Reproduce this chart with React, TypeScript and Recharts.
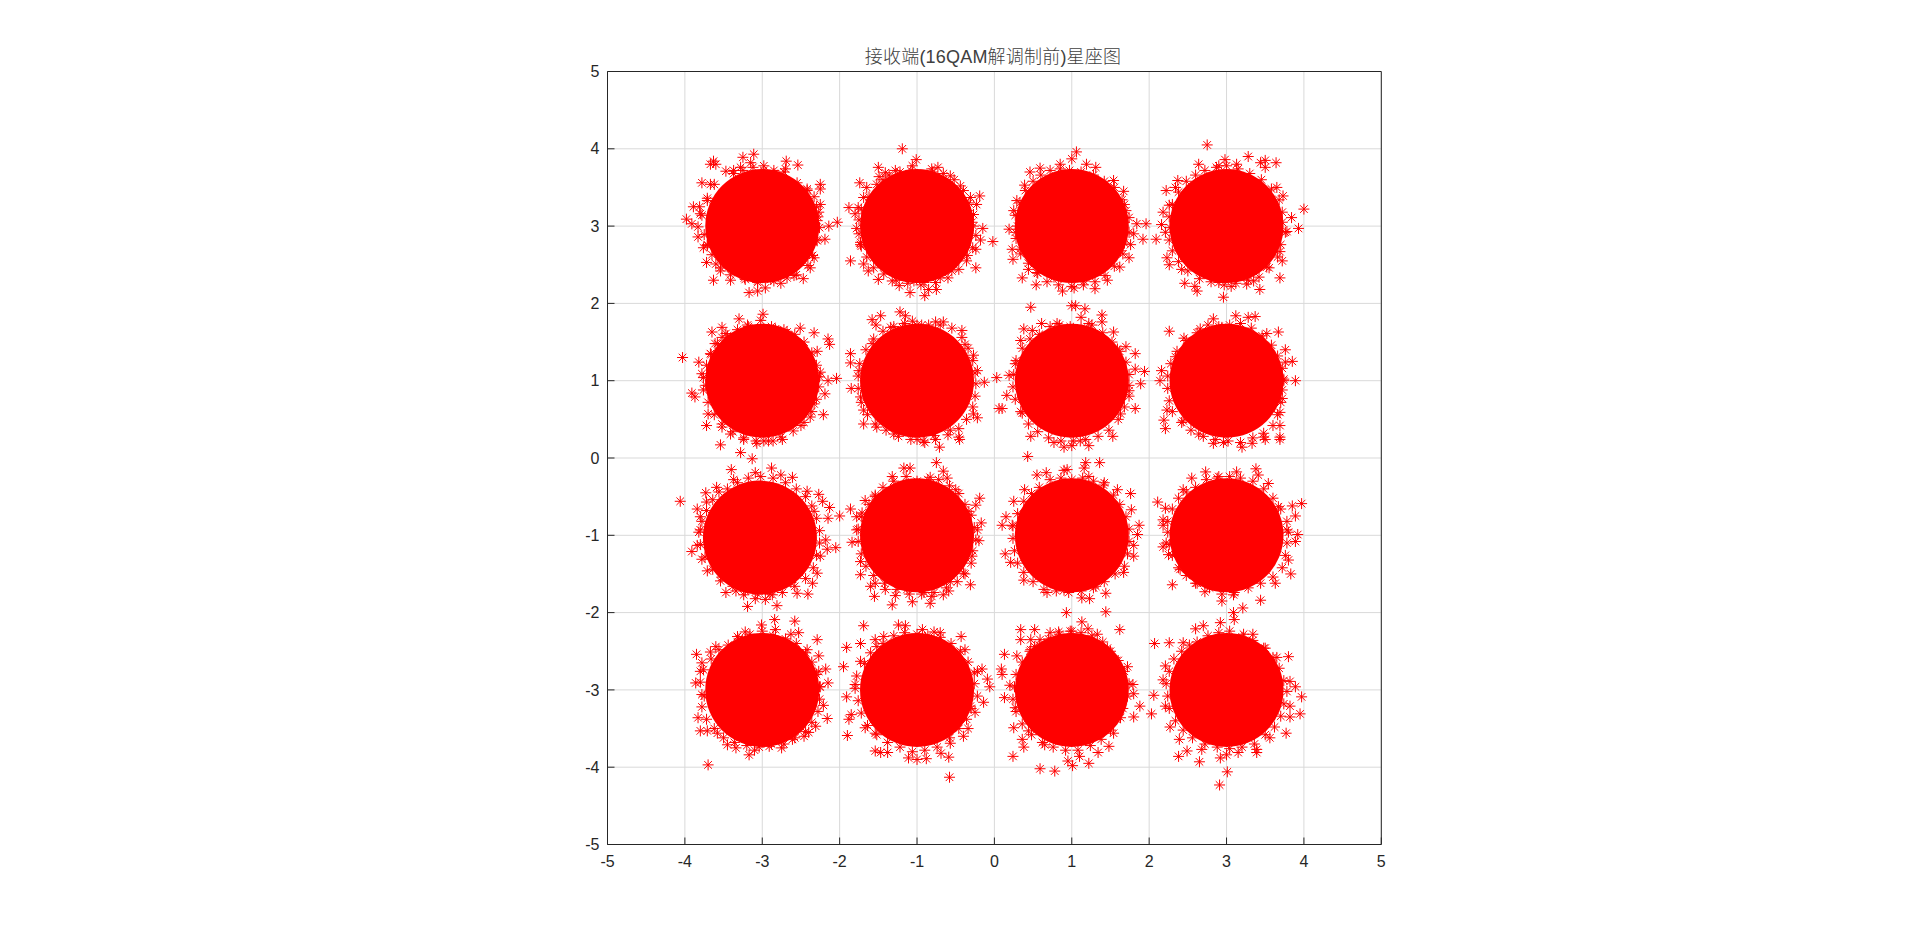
import React from "react";
import {
  ScatterChart,
  Scatter,
  XAxis,
  YAxis,
  CartesianGrid,
} from "recharts";

const TITLE = "接收端(16QAM解调制前)星座图";
const TICKS = [-5, -4, -3, -2, -1, 0, 1, 2, 3, 4, 5];

// centre of the solid part of each constellation blob
const coreX = [-3, -1, 1, 3, -3, -1, 1, 3, -3.03, -1, 1, 3, -3, -1, 1, 3];
const coreY = [3, 3, 3, 3, 1, 1, 1, 1, -1.03, -1, -1, -1, -3, -3, -3, -3];

// samples
const blobA1: number[][] = [[-3.63,3.84],[-3.60,3.80],[-3.67,3.80],[-3.25,3.89],[-3.11,3.93],[-2.69,3.84],[-2.54,3.79],[-3.47,3.71],[-3.78,3.56],[-3.67,3.54],[-2.25,3.54],[-2.25,3.48],[-3.89,3.25],[-3.81,3.25],[-3.98,3.09],[-3.91,3.03],[-3.83,2.99],[-3.83,2.86],[-3.76,2.72],[-3.71,2.75],[-3.72,2.53],[-3.60,2.51],[-3.63,2.30],[-3.41,2.30],[-3.22,2.31],[-3.17,2.14],[-3.06,2.16],[-2.96,2.20],[-2.76,2.26],[-2.59,2.36],[-2.47,2.32],[-2.38,2.46],[-2.19,2.83],[-2.14,3.00],[-2.03,3.05],[-2.25,3.28],[-2.27,3.18],[-2.29,2.81],[-3.71,3.33],[-3.80,3.16],[-2.42,3.48],[-2.55,3.56],[-2.98,3.78],[-3.37,3.72],[-2.85,3.72],[-2.70,3.74],[-3.28,3.76],[-3.15,3.82],[-3.54,2.42],[-3.06,2.29],[-2.89,2.31],[-2.33,2.59],[-2.29,3.07]];
const blobA2: number[][] = [[-1.19,4.00],[-1.01,3.86],[-1.50,3.76],[-1.28,3.72],[-1.06,3.78],[-0.73,3.76],[-0.81,3.74],[-1.74,3.56],[-1.49,3.64],[-0.57,3.65],[-0.44,3.52],[-0.19,3.39],[-0.23,3.28],[-0.31,3.37],[-1.88,3.24],[-1.76,3.24],[-1.80,3.16],[-1.65,3.50],[-1.69,3.37],[-1.78,2.97],[-1.73,2.79],[-1.73,2.76],[-1.86,2.55],[-1.69,2.51],[-1.63,2.42],[-1.50,2.31],[-1.32,2.29],[-1.23,2.23],[-1.09,2.14],[-0.90,2.10],[-0.85,2.18],[-0.75,2.18],[-0.70,2.33],[-0.55,2.42],[-0.35,2.62],[-0.24,2.46],[-0.24,2.70],[-0.18,2.82],[-0.02,2.80],[-0.15,2.97],[-0.29,3.05],[-0.35,3.20],[-1.04,2.29],[-0.91,2.27],[-1.56,2.59],[-1.41,3.69]];
const blobA3: number[][] = [[1.06,3.96],[1.00,3.87],[1.19,3.80],[1.31,3.76],[0.85,3.80],[0.59,3.75],[0.46,3.70],[1.54,3.59],[0.39,3.53],[1.67,3.45],[0.29,3.33],[0.25,3.20],[1.68,3.28],[1.74,3.11],[1.84,3.03],[1.96,3.03],[1.80,2.90],[1.92,2.83],[0.19,2.96],[0.27,2.92],[1.76,2.76],[0.23,2.70],[0.24,2.57],[1.74,2.59],[1.62,2.47],[0.44,2.44],[0.56,2.39],[0.36,2.33],[0.54,2.24],[1.46,2.30],[1.30,2.19],[1.03,2.20],[0.88,2.16],[1.16,2.29],[0.77,2.34],[0.34,2.64],[1.63,2.68]];
const blobA4: number[][] = [[2.75,4.05],[2.98,3.86],[3.28,3.90],[3.44,3.82],[3.50,3.85],[3.50,3.76],[3.64,3.82],[2.64,3.80],[2.90,3.78],[3.13,3.80],[2.37,3.59],[2.22,3.46],[2.34,3.50],[3.65,3.50],[3.73,3.39],[2.26,3.27],[2.18,3.18],[3.84,3.11],[4.00,3.22],[3.93,2.97],[3.78,2.93],[2.16,3.02],[2.21,2.92],[2.09,2.83],[2.23,2.59],[2.26,2.50],[3.72,2.55],[3.69,2.67],[3.69,2.33],[3.52,2.47],[2.42,2.44],[2.46,2.26],[2.59,2.22],[2.62,2.16],[2.90,2.27],[3.06,2.22],[2.96,2.08],[3.26,2.25],[3.43,2.18],[3.35,2.29]];
const blobB1: number[][] = [[-2.99,1.86],[-3.30,1.80],[-3.52,1.69],[-3.65,1.63],[-2.51,1.68],[-2.33,1.62],[-2.15,1.54],[-2.13,1.47],[-2.29,1.38],[-4.03,1.30],[-3.82,1.24],[-3.67,1.35],[-3.78,1.09],[-3.73,0.94],[-3.91,0.84],[-3.87,0.79],[-3.70,0.57],[-3.72,0.42],[-3.52,0.40],[-3.41,0.31],[-2.50,0.42],[-2.38,0.53],[-2.21,0.56],[-2.19,0.83],[-2.15,1.00],[-2.25,1.11],[-2.04,1.03],[-2.29,1.05],[-2.38,1.26],[-2.68,1.63],[-2.83,1.67],[-3.19,1.72],[-3.47,1.61],[-3.61,1.48],[-2.33,0.70],[-3.54,0.17],[-3.28,0.07],[-3.13,-0.01],[-3.07,0.19],[-2.98,0.22],[-2.86,0.22],[-2.74,0.24],[-3.24,0.24]];
const blobB2: number[][] = [[-1.22,1.89],[-1.15,1.84],[-1.47,1.84],[-1.58,1.79],[-1.53,1.72],[-1.06,1.77],[-0.76,1.76],[-0.66,1.76],[-0.42,1.65],[-1.34,1.69],[-1.19,1.69],[-0.94,1.72],[-0.38,1.47],[-1.58,1.48],[-1.86,1.35],[-1.86,1.23],[-0.27,1.33],[-1.75,1.13],[-0.22,1.13],[-1.85,0.90],[-0.13,0.98],[0.03,1.04],[-1.73,0.79],[-1.69,0.62],[0.06,0.64],[-0.22,0.52],[-1.69,0.44],[-1.52,0.40],[-1.30,0.31],[-0.46,0.27],[-0.27,0.57],[-0.57,0.36],[-0.78,0.29],[-0.90,0.20],[-0.71,0.14],[-0.75,-0.06],[-0.45,0.24],[-1.00,0.24]];
const blobB3: number[][] = [[0.47,1.95],[1.05,1.97],[1.17,1.93],[1.00,1.97],[1.39,1.85],[1.39,1.76],[1.12,1.82],[1.22,1.74],[0.61,1.74],[0.38,1.67],[0.49,1.65],[0.81,1.74],[1.54,1.63],[1.70,1.44],[1.82,1.35],[1.59,1.41],[1.82,1.15],[1.94,1.12],[1.89,0.96],[1.74,0.87],[0.16,0.81],[0.10,0.64],[1.82,0.64],[1.63,0.57],[0.19,1.07],[0.27,1.22],[0.36,0.58],[0.47,0.28],[1.53,0.28],[0.34,1.52],[0.77,0.20],[0.90,0.14],[1.00,0.16],[1.22,0.16],[0.43,0.02],[1.18,-0.06],[1.36,-0.06],[1.11,0.22]];
const blobB4: number[][] = [[2.26,1.64],[2.45,1.55],[2.83,1.80],[3.12,1.84],[3.28,1.82],[3.37,1.83],[3.67,1.63],[3.76,1.40],[3.85,1.25],[3.76,1.24],[2.66,1.67],[2.94,1.69],[3.52,1.61],[2.34,1.31],[2.16,1.13],[2.14,1.00],[3.89,1.00],[3.74,1.00],[2.23,0.62],[3.72,0.77],[3.69,0.59],[3.69,0.42],[2.19,0.49],[2.21,0.38],[3.69,0.27],[3.48,0.27],[2.64,0.31],[2.44,0.48],[2.83,0.19],[2.96,0.20],[3.20,0.14],[3.33,0.19],[3.50,0.24],[3.69,0.24]];
const blobC1: number[][] = [[-4.06,-0.56],[-3.40,-0.15],[-3.09,-0.19],[-2.88,-0.13],[-2.76,-0.22],[-2.61,-0.25],[-3.59,-0.38],[-3.73,-0.45],[-3.72,-0.57],[-3.84,-0.66],[-2.42,-0.43],[-2.27,-0.47],[-2.22,-0.56],[-2.13,-0.64],[-2.15,-0.78],[-2.00,-0.75],[-2.33,-0.69],[-2.18,-1.06],[-2.05,-1.16],[-2.16,-1.18],[-2.25,-1.27],[-2.29,-1.49],[-2.35,-1.62],[-2.41,-1.76],[-2.55,-1.75],[-2.81,-1.91],[-2.87,-1.77],[-2.96,-1.83],[-3.09,-1.82],[-3.19,-1.92],[-3.24,-1.77],[-3.34,-1.72],[-3.47,-1.74],[-3.54,-1.59],[-3.71,-1.46],[-3.78,-1.31],[-3.91,-1.21],[-3.84,-1.13],[-3.80,-0.93],[-3.80,-0.76],[-3.37,-0.28],[-2.63,-1.61]];
const blobC2: number[][] = [[-1.17,-0.13],[-1.09,-0.13],[-1.32,-0.24],[-0.83,-0.25],[-0.61,-0.26],[-0.50,-0.41],[-0.19,-0.52],[-0.24,-0.61],[-0.66,-0.17],[-1.86,-0.66],[-1.71,-0.71],[-1.78,-0.76],[-1.67,-0.55],[-1.54,-0.50],[-0.33,-0.69],[-0.17,-0.84],[-0.22,-0.93],[-0.20,-1.07],[-1.84,-1.09],[-1.78,-0.93],[-1.73,-1.34],[-1.73,-1.51],[-1.60,-1.66],[-1.54,-1.62],[-1.55,-1.79],[-1.41,-1.70],[-1.32,-1.90],[-1.28,-1.78],[-1.06,-1.86],[-0.83,-1.88],[-0.81,-1.79],[-0.66,-1.77],[-0.59,-1.72],[-0.57,-1.60],[-0.31,-1.64],[-0.40,-1.49],[-0.29,-1.27],[-1.13,-1.70],[-0.91,-1.74]];
const blobC3: number[][] = [[0.55,-0.22],[0.67,-0.19],[0.90,-0.16],[0.94,-0.15],[1.16,-0.13],[1.22,-0.24],[1.41,-0.35],[1.59,-0.41],[1.76,-0.46],[0.39,-0.41],[0.25,-0.56],[1.77,-0.67],[0.15,-0.76],[0.10,-0.87],[0.23,-0.87],[1.87,-0.87],[1.85,-0.99],[1.80,-1.13],[1.80,-1.27],[0.14,-1.24],[0.21,-1.35],[1.67,-1.48],[0.38,-1.58],[0.68,-1.74],[0.90,-1.71],[1.13,-1.81],[1.23,-1.82],[1.44,-1.75],[1.31,-1.66],[1.44,-1.99],[0.93,-2.00]];
const blobC4: number[][] = [[2.73,-0.18],[3.13,-0.18],[3.38,-0.14],[3.41,-0.22],[2.55,-0.26],[2.90,-0.24],[3.54,-0.33],[2.44,-0.41],[2.11,-0.57],[2.21,-0.65],[3.97,-0.59],[3.85,-0.62],[3.89,-0.75],[3.67,-0.63],[2.18,-0.80],[2.18,-0.87],[3.78,-0.93],[3.92,-0.99],[3.89,-1.08],[2.22,-1.10],[2.18,-1.15],[2.25,-1.25],[3.80,-1.32],[3.83,-1.50],[3.63,-1.62],[2.30,-1.64],[2.60,-1.62],[2.72,-1.73],[2.94,-1.85],[3.09,-1.77],[3.44,-1.84],[2.40,-1.44]];
const blobD1: number[][] = [[-2.84,-2.09],[-2.58,-2.11],[-3.01,-2.16],[-2.83,-2.22],[-2.53,-2.26],[-2.29,-2.35],[-2.63,-2.28],[-3.22,-2.25],[-3.32,-2.31],[-3.60,-2.44],[-3.67,-2.51],[-3.85,-2.54],[-3.78,-2.65],[-3.80,-2.76],[-3.86,-2.91],[-2.27,-2.56],[-2.42,-2.48],[-2.18,-2.73],[-2.27,-2.76],[-2.15,-2.91],[-2.25,-2.96],[-2.21,-3.20],[-2.16,-3.37],[-2.31,-3.47],[-2.40,-3.55],[-2.46,-3.60],[-3.83,-3.36],[-3.80,-3.53],[-3.71,-3.53],[-3.45,-3.71],[-3.34,-3.75],[-3.17,-3.84],[-3.10,-3.78],[-2.91,-3.73],[-2.75,-3.75],[-2.61,-3.64],[-3.70,-3.97],[-3.58,-3.56],[-3.75,-3.08]];
const blobD2: number[][] = [[-1.69,-2.17],[-1.24,-2.16],[-1.15,-2.17],[-0.93,-2.22],[-0.78,-2.25],[-0.70,-2.26],[-0.43,-2.31],[-1.43,-2.31],[-1.54,-2.35],[-1.73,-2.40],[-1.91,-2.45],[-1.73,-2.63],[-1.95,-2.70],[-0.38,-2.48],[-0.16,-2.73],[-0.09,-2.86],[-0.06,-2.96],[-0.22,-2.76],[-1.80,-2.93],[-1.91,-3.09],[-0.14,-3.16],[-0.25,-3.29],[-0.31,-3.21],[-1.85,-3.32],[-1.88,-3.38],[-1.90,-3.59],[-1.67,-3.49],[-1.54,-3.56],[-0.34,-3.50],[-0.40,-3.60],[-0.57,-3.69],[-1.54,-3.79],[-1.47,-3.81],[-1.38,-3.81],[-1.11,-3.88],[-1.00,-3.90],[-0.88,-3.89],[-0.69,-3.82],[-0.59,-3.87],[-0.58,-4.13]];
const blobD3: number[][] = [[0.34,-2.22],[0.52,-2.22],[0.34,-2.35],[0.47,-2.35],[0.59,-2.35],[0.72,-2.26],[0.83,-2.25],[1.00,-2.24],[1.13,-2.12],[1.21,-2.21],[1.33,-2.28],[1.62,-2.22],[1.46,-2.46],[0.47,-2.48],[0.13,-2.54],[0.29,-2.56],[1.58,-2.62],[1.72,-2.70],[0.09,-2.73],[0.10,-2.80],[0.20,-2.94],[1.79,-2.93],[1.80,-3.05],[1.88,-3.21],[1.80,-3.35],[1.63,-3.36],[0.13,-3.10],[0.27,-3.23],[0.25,-3.49],[0.44,-3.53],[0.36,-3.64],[0.38,-3.74],[0.24,-3.86],[0.65,-3.71],[1.54,-3.56],[1.48,-3.73],[1.34,-3.81],[1.10,-3.86],[1.22,-3.95],[0.95,-3.92],[1.01,-3.98],[0.59,-4.02],[0.78,-4.05]];
const blobD4: number[][] = [[2.07,-2.40],[2.26,-2.39],[2.44,-2.39],[2.60,-2.21],[2.70,-2.17],[2.92,-2.13],[3.10,-2.09],[3.09,-2.00],[3.21,-1.94],[3.34,-2.28],[3.22,-2.28],[3.50,-2.46],[3.80,-2.57],[3.65,-2.58],[2.21,-2.69],[2.18,-2.87],[2.06,-3.07],[3.89,-2.96],[3.82,-2.89],[3.97,-3.09],[3.82,-3.21],[3.82,-3.35],[3.95,-3.31],[2.03,-3.31],[2.21,-3.21],[2.27,-3.48],[2.39,-3.64],[3.77,-3.56],[3.56,-3.62],[3.39,-3.77],[3.39,-3.81],[3.15,-3.81],[2.49,-3.79],[2.38,-3.86],[2.65,-3.93],[2.68,-3.77],[2.92,-3.88],[3.00,-3.84],[3.01,-4.06],[2.91,-4.23]];

// samples along the dense edge of each blob
const edgeA1: number[][] = [[-3.37,3.68],[-3.25,3.72],[-3.12,3.76],[-2.98,3.72],[-2.85,3.68],[-2.72,3.70],[-2.42,3.46],[-2.33,3.38],[-2.30,3.25],[-2.28,3.12],[-2.26,2.98],[-2.30,2.82],[-2.35,2.62],[-2.41,2.49],[-2.56,2.37],[-2.68,2.33],[-2.85,2.29],[-3.06,2.27],[-3.23,2.33],[-3.41,2.37],[-3.54,2.46],[-3.65,2.63],[-3.71,2.76],[-3.75,2.89],[-3.78,3.14],[-3.71,3.36],[-3.62,3.54]];
const edgeA2: number[][] = [[-1.36,3.66],[-1.22,3.70],[-1.08,3.72],[-0.95,3.66],[-0.80,3.70],[-0.66,3.68],[-0.52,3.60],[-0.40,3.46],[-0.33,3.30],[-0.27,3.15],[-0.27,3.00],[-0.24,2.88],[-0.28,2.72],[-0.36,2.55],[-0.46,2.44],[-0.60,2.33],[-0.76,2.27],[-0.95,2.24],[-1.12,2.26],[-1.27,2.30],[-1.43,2.38],[-1.56,2.46],[-1.65,2.60],[-1.72,2.74],[-1.75,2.90],[-1.75,3.08],[-1.72,3.22],[-1.62,3.38],[-1.52,3.54],[-1.44,3.60]];
const edgeA3: number[][] = [[0.60,3.66],[0.72,3.72],[0.85,3.74],[0.97,3.72],[1.12,3.70],[1.28,3.66],[1.42,3.58],[1.55,3.50],[1.65,3.34],[1.70,3.20],[1.68,3.05],[1.74,2.92],[1.68,2.78],[1.66,2.64],[1.55,2.48],[1.43,2.36],[1.30,2.28],[1.15,2.24],[1.00,2.22],[0.83,2.24],[0.68,2.28],[0.55,2.40],[0.44,2.52],[0.33,2.70],[0.28,2.84],[0.30,3.00],[0.27,3.14],[0.33,3.30],[0.40,3.46],[0.50,3.58]];
const edgeA4: number[][] = [[2.60,3.66],[2.72,3.72],[2.87,3.76],[3.00,3.78],[3.15,3.74],[3.30,3.68],[3.45,3.60],[3.58,3.48],[3.68,3.34],[3.72,3.18],[3.72,3.05],[3.76,2.92],[3.70,2.76],[3.66,2.60],[3.55,2.46],[3.42,2.34],[3.28,2.30],[3.12,2.26],[2.97,2.24],[2.80,2.28],[2.65,2.32],[2.50,2.42],[2.38,2.54],[2.30,2.68],[2.26,2.82],[2.27,2.98],[2.26,3.12],[2.30,3.28],[2.38,3.44],[2.48,3.58]];
const edgeB1: number[][] = [[-3.45,1.58],[-3.32,1.66],[-3.18,1.70],[-3.02,1.78],[-2.88,1.70],[-2.72,1.66],[-2.58,1.60],[-2.46,1.50],[-2.36,1.36],[-2.30,1.20],[-2.26,1.05],[-2.27,0.92],[-2.30,0.76],[-2.36,0.60],[-2.46,0.46],[-2.60,0.35],[-2.76,0.27],[-2.92,0.22],[-3.08,0.22],[-3.24,0.26],[-3.38,0.34],[-3.52,0.44],[-3.62,0.56],[-3.70,0.72],[-3.76,0.88],[-3.76,1.04],[-3.72,1.20],[-3.66,1.34],[-3.58,1.48],[-3.52,1.56]];
const edgeB2: number[][] = [[-1.44,1.64],[-1.30,1.70],[-1.16,1.74],[-1.00,1.72],[-0.85,1.72],[-0.70,1.72],[-0.55,1.68],[-0.42,1.56],[-0.34,1.42],[-0.28,1.26],[-0.25,1.10],[-0.24,0.96],[-0.25,0.80],[-0.28,0.66],[-0.36,0.50],[-0.46,0.38],[-0.60,0.30],[-0.76,0.24],[-0.92,0.22],[-1.08,0.24],[-1.24,0.28],[-1.40,0.36],[-1.54,0.44],[-1.64,0.56],[-1.72,0.72],[-1.76,0.90],[-1.76,1.06],[-1.74,1.22],[-1.66,1.40],[-1.56,1.54]];
const edgeB3: number[][] = [[0.58,1.60],[0.72,1.70],[0.84,1.72],[0.98,1.70],[1.12,1.68],[1.26,1.72],[1.40,1.62],[1.52,1.50],[1.62,1.38],[1.70,1.24],[1.74,1.08],[1.74,0.94],[1.74,0.80],[1.68,0.66],[1.60,0.50],[1.48,0.36],[1.34,0.28],[1.18,0.24],[1.02,0.22],[0.86,0.22],[0.70,0.26],[0.56,0.34],[0.44,0.44],[0.34,0.60],[0.27,0.76],[0.24,0.92],[0.25,1.08],[0.28,1.26],[0.36,1.42],[0.46,1.54]];
const edgeB4: number[][] = [[2.62,1.62],[2.76,1.72],[2.90,1.70],[3.04,1.72],[3.18,1.74],[3.32,1.68],[3.46,1.58],[3.58,1.46],[3.66,1.32],[3.72,1.16],[3.74,1.02],[3.72,0.88],[3.70,0.72],[3.66,0.56],[3.60,0.42],[3.48,0.32],[3.34,0.26],[3.18,0.20],[3.02,0.22],[2.86,0.24],[2.70,0.28],[2.54,0.36],[2.42,0.46],[2.30,0.60],[2.26,0.74],[2.24,0.90],[2.24,1.06],[2.28,1.22],[2.36,1.38],[2.48,1.52]];
const edgeC1: number[][] = [[-3.45,-0.40],[-3.32,-0.32],[-3.18,-0.26],[-3.02,-0.24],[-2.86,-0.26],[-2.70,-0.32],[-2.56,-0.40],[-2.44,-0.50],[-2.36,-0.62],[-2.30,-0.78],[-2.26,-0.94],[-2.26,-1.10],[-2.30,-1.26],[-2.34,-1.42],[-2.44,-1.56],[-2.58,-1.66],[-2.74,-1.74],[-2.90,-1.76],[-3.06,-1.76],[-3.22,-1.72],[-3.38,-1.66],[-3.52,-1.54],[-3.64,-1.44],[-3.74,-1.28],[-3.80,-1.12],[-3.82,-0.96],[-3.78,-0.82],[-3.72,-0.68],[-3.64,-0.54],[-3.56,-0.44]];
const edgeC2: number[][] = [[-1.44,-0.38],[-1.30,-0.30],[-1.14,-0.24],[-1.00,-0.30],[-0.86,-0.28],[-0.72,-0.28],[-0.58,-0.36],[-0.46,-0.46],[-0.38,-0.60],[-0.30,-0.74],[-0.26,-0.90],[-0.24,-1.06],[-0.28,-1.20],[-0.30,-1.36],[-0.38,-1.50],[-0.48,-1.60],[-0.62,-1.68],[-0.78,-1.74],[-0.94,-1.76],[-1.10,-1.76],[-1.26,-1.70],[-1.42,-1.62],[-1.56,-1.52],[-1.66,-1.40],[-1.72,-1.24],[-1.76,-1.08],[-1.76,-0.92],[-1.72,-0.76],[-1.62,-0.60],[-1.54,-0.48]];
const edgeC3: number[][] = [[0.58,-0.38],[0.72,-0.28],[0.86,-0.26],[1.00,-0.28],[1.14,-0.26],[1.28,-0.30],[1.42,-0.32],[1.54,-0.48],[1.62,-0.60],[1.70,-0.76],[1.74,-0.92],[1.74,-1.08],[1.72,-1.24],[1.68,-1.40],[1.56,-1.50],[1.42,-1.60],[1.28,-1.68],[1.12,-1.72],[0.96,-1.74],[0.80,-1.72],[0.64,-1.70],[0.50,-1.60],[0.38,-1.48],[0.30,-1.36],[0.26,-1.20],[0.24,-1.04],[0.24,-0.88],[0.30,-0.72],[0.38,-0.56],[0.48,-0.46]];
const edgeC4: number[][] = [[2.60,-0.38],[2.74,-0.28],[2.88,-0.26],[3.04,-0.24],[3.18,-0.26],[3.34,-0.30],[3.48,-0.40],[3.60,-0.52],[3.70,-0.66],[3.78,-0.82],[3.80,-0.96],[3.78,-1.10],[3.76,-1.26],[3.72,-1.42],[3.60,-1.54],[3.44,-1.62],[3.28,-1.68],[3.10,-1.74],[2.94,-1.76],[2.78,-1.68],[2.62,-1.62],[2.48,-1.52],[2.38,-1.42],[2.30,-1.26],[2.26,-1.12],[2.24,-0.96],[2.24,-0.82],[2.30,-0.66],[2.38,-0.52],[2.48,-0.44]];
const edgeD1: number[][] = [[-3.44,-2.42],[-3.30,-2.34],[-3.16,-2.28],[-3.00,-2.24],[-2.86,-2.30],[-2.70,-2.34],[-2.56,-2.40],[-2.44,-2.52],[-2.36,-2.64],[-2.30,-2.80],[-2.26,-2.96],[-2.26,-3.12],[-2.28,-3.28],[-2.36,-3.42],[-2.44,-3.54],[-2.58,-3.62],[-2.72,-3.70],[-2.88,-3.70],[-3.04,-3.74],[-3.20,-3.72],[-3.36,-3.68],[-3.50,-3.62],[-3.62,-3.50],[-3.72,-3.38],[-3.78,-3.22],[-3.78,-3.06],[-3.80,-2.90],[-3.76,-2.74],[-3.66,-2.60],[-3.56,-2.48]];
const edgeD2: number[][] = [[-1.44,-2.40],[-1.30,-2.30],[-1.16,-2.26],[-1.00,-2.28],[-0.86,-2.30],[-0.70,-2.32],[-0.56,-2.40],[-0.44,-2.50],[-0.34,-2.64],[-0.26,-2.78],[-0.26,-2.92],[-0.22,-3.08],[-0.30,-3.24],[-0.36,-3.38],[-0.46,-3.50],[-0.58,-3.62],[-0.74,-3.74],[-0.90,-3.78],[-1.06,-3.80],[-1.22,-3.74],[-1.38,-3.68],[-1.52,-3.58],[-1.64,-3.46],[-1.72,-3.30],[-1.76,-3.14],[-1.80,-2.98],[-1.78,-2.82],[-1.68,-2.66],[-1.60,-2.52],[-1.52,-2.44]];
const edgeD3: number[][] = [[0.58,-2.42],[0.70,-2.34],[0.84,-2.28],[0.98,-2.24],[1.12,-2.26],[1.26,-2.30],[1.40,-2.38],[1.50,-2.50],[1.60,-2.62],[1.68,-2.76],[1.74,-2.92],[1.72,-3.08],[1.66,-3.24],[1.58,-3.38],[1.50,-3.52],[1.38,-3.64],[1.24,-3.72],[1.08,-3.78],[0.92,-3.78],[0.76,-3.74],[0.62,-3.68],[0.48,-3.58],[0.36,-3.44],[0.28,-3.28],[0.24,-3.12],[0.26,-2.96],[0.28,-2.80],[0.36,-2.64],[0.46,-2.50],[0.52,-2.44]];
const edgeD4: number[][] = [[2.62,-2.38],[2.76,-2.30],[2.90,-2.26],[3.04,-2.24],[3.20,-2.32],[3.34,-2.36],[3.48,-2.46],[3.60,-2.58],[3.68,-2.72],[3.74,-2.88],[3.78,-3.02],[3.74,-3.18],[3.70,-3.34],[3.62,-3.48],[3.50,-3.58],[3.36,-3.70],[3.20,-3.74],[3.04,-3.76],[2.88,-3.74],[2.72,-3.70],[2.56,-3.62],[2.44,-3.52],[2.34,-3.40],[2.26,-3.24],[2.24,-3.08],[2.22,-2.92],[2.26,-2.76],[2.32,-2.60],[2.42,-2.50],[2.52,-2.42]];

const blobs = [
  blobA1, blobA2, blobA3, blobA4, blobB1, blobB2, blobB3, blobB4,
  blobC1, blobC2, blobC3, blobC4, blobD1, blobD2, blobD3, blobD4,
  edgeA1, edgeA2, edgeA3, edgeA4, edgeB1, edgeB2, edgeB3, edgeB4,
  edgeC1, edgeC2, edgeC3, edgeC4, edgeD1, edgeD2, edgeD3, edgeD4,
];

const samples = blobs.flat().map(([x, y]) => ({ x, y }));
const cores = coreX.map((x, i) => ({ x, y: coreY[i] }));

const RED = "#ff0000";
const INK = "#262626";
const CORE_RADIUS = 57;

const Asterisk = ({ cx, cy }: any) => (
  <path
    d={`M${cx - 5.5} ${cy}H${cx + 5.5}M${cx} ${cy - 5.5}V${cy + 5.5}M${cx - 3.8} ${cy - 3.8}L${cx + 3.8} ${cy + 3.8}M${cx - 3.8} ${cy + 3.8}L${cx + 3.8} ${cy - 3.8}`}
    stroke={RED}
    strokeWidth={1}
    fill="none"
  />
);

const Core = ({ cx, cy }: any) => <circle cx={cx} cy={cy} r={CORE_RADIUS} fill={RED} />;

const tickStyle = { fontSize: 16, fontFamily: "'Liberation Sans', Arial, sans-serif", fill: INK };

export default function App() {
  return (
    <div style={{ position: "absolute", left: 0, top: 0, width: 1920, height: 949, background: "#fff" }}>
      <ScatterChart
        width={1920}
        height={949}
        margin={{ top: 70.5, right: 537.7, bottom: 74.5, left: 567.5 }}
      >
        <CartesianGrid stroke="#d9d9d9" strokeWidth={1} />
        <XAxis
          type="number"
          dataKey="x"
          domain={[-5, 5]}
          ticks={TICKS}
          interval={0}
          height={30}
          tickSize={-7}
          tickMargin={18}
          tick={tickStyle}
          tickLine={{ stroke: INK }}
          axisLine={{ stroke: INK }}
        />
        <YAxis
          type="number"
          dataKey="y"
          domain={[-5, 5]}
          ticks={TICKS}
          interval={0}
          width={40}
          tickSize={-7}
          tickMargin={15}
          tick={tickStyle}
          tickLine={{ stroke: INK }}
          axisLine={{ stroke: INK }}
        />
        <XAxis
          xAxisId="top"
          orientation="top"
          type="number"
          domain={[-5, 5]}
          ticks={TICKS}
          interval={0}
          height={1}
          tickSize={-7}
          tickFormatter={() => ""}
          tickLine={{ stroke: INK }}
          axisLine={{ stroke: INK }}
        />
        <YAxis
          yAxisId="right"
          orientation="right"
          type="number"
          domain={[-5, 5]}
          ticks={TICKS}
          interval={0}
          width={1}
          tickSize={-7}
          tickFormatter={() => ""}
          tickLine={{ stroke: INK }}
          axisLine={{ stroke: INK }}
        />
        <Scatter data={cores} shape={Core} isAnimationActive={false} />
        <Scatter data={samples} shape={Asterisk} isAnimationActive={false} />
        <text
          x={993}
          y={63}
          textAnchor="middle"
          fontSize={18}
          fontWeight={300}
          letterSpacing={0.2}
          fill="#404040"
          fontFamily="'Liberation Sans', 'Noto Sans CJK SC', sans-serif"
        >
          {TITLE}
        </text>
      </ScatterChart>
    </div>
  );
}
